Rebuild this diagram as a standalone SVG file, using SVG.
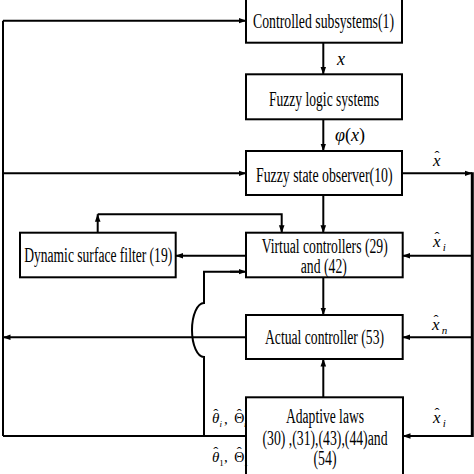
<svg xmlns="http://www.w3.org/2000/svg" width="474" height="474" viewBox="0 0 474 474">
<defs>
<marker id="ah" markerUnits="userSpaceOnUse" markerWidth="8" markerHeight="8" viewBox="0 0 8 8" refX="7.5" refY="4" orient="auto">
<path d="M0,1.2 L8,4 L0,6.8 Z" fill="#000"/>
</marker>
</defs>
<style>
.box{fill:#fff;stroke:#000;stroke-width:2}
.lbl{font-family:"Liberation Serif","Times New Roman",serif;font-size:20px;fill:#000;text-anchor:middle}
.m{font-family:"Liberation Serif","Times New Roman",serif;font-size:18px;font-style:italic;fill:#000}
.xh{font-family:"Liberation Serif","Times New Roman",serif;font-size:17px;font-style:italic;fill:#000}
.g{font-family:"Liberation Serif","Times New Roman",serif;font-size:15px;fill:#000}
.hat{font-size:15px;font-style:normal}
.it{font-style:italic}
.up{font-style:normal}
.sub{font-size:11px}
.s9{font-size:9px}
.ln{fill:none;stroke:#000;stroke-width:2}
.ar{fill:none;stroke:#000;stroke-width:2;marker-end:url(#ah)}
</style>
<rect width="474" height="474" fill="#fff"/>
<g id="connectors">
<path class="ln" d="M3,20.7 V436"/>
<path class="ar" d="M3,20.7 H246"/>
<path class="ar" d="M3,173.3 H246"/>
<path class="ar" d="M246,337.3 H3"/>
<path class="ln" d="M3,436 H246"/>
<path class="ln" d="M204,436 V357 A12,27 0 0 1 204,303 V271.7 H240"/>
<path class="ar" d="M230,271.7 H246"/>
<path class="ar" d="M323.3,42.7 V74.3"/>
<path class="ar" d="M323.3,119.3 V151"/>
<path class="ar" d="M323.3,195 V232.7"/>
<path class="ar" d="M323.3,277.3 V315"/>
<path class="ar" d="M323.3,397.3 V359"/>
<path class="ar" d="M246,255.7 H175.7"/>
<path class="ar" d="M97.7,232.7 V214.3"/>
<path class="ar" d="M97.7,214.3 H281.7 V232.7"/>
<path class="ar" d="M402,173.3 H472"/>
<path class="ln" d="M472.3,172.3 V437" style="stroke-width:3"/>
<path class="ar" d="M472.3,255.7 H402.7"/>
<path class="ar" d="M472.3,337.3 H402.7"/>
<path class="ar" d="M472.3,436 H403"/>
</g>
<g id="n1">
<rect class="box" x="246" y="-2" width="156" height="44.7"/>
<text class="lbl" x="323.5" y="28.3" textLength="141" lengthAdjust="spacingAndGlyphs">Controlled subsystems(1)</text>
</g>
<g id="n2">
<rect class="box" x="246" y="74.3" width="156" height="45"/>
<text class="lbl" x="324" y="105.5" textLength="110" lengthAdjust="spacingAndGlyphs">Fuzzy logic systems</text>
</g>
<g id="n3">
<rect class="box" x="246" y="151" width="156" height="44"/>
<text class="lbl" x="324.3" y="181.7" textLength="136.7" lengthAdjust="spacingAndGlyphs">Fuzzy state observer(10)</text>
</g>
<g id="n4">
<rect class="box" x="246" y="232.7" width="156.7" height="44.6"/>
<text class="lbl" x="324.7" y="252.5" textLength="126" lengthAdjust="spacingAndGlyphs">Virtual controllers (29)</text>
<text class="lbl" x="323.8" y="272.5" textLength="46" lengthAdjust="spacingAndGlyphs">and (42)</text>
</g>
<g id="n5">
<rect class="box" x="20" y="232.7" width="155.7" height="44.6"/>
<text class="lbl" x="98.2" y="262.3" textLength="148" lengthAdjust="spacingAndGlyphs">Dynamic surface filter (19)</text>
</g>
<g id="n6">
<rect class="box" x="246" y="315" width="156.7" height="44"/>
<text class="lbl" x="324.5" y="344" textLength="119" lengthAdjust="spacingAndGlyphs">Actual controller (53)</text>
</g>
<g id="n7">
<rect class="box" x="246" y="397.3" width="157" height="82"/>
<text class="lbl" x="325" y="423" textLength="78" lengthAdjust="spacingAndGlyphs">Adaptive laws</text>
<text class="lbl" x="325" y="444.7" textLength="125" lengthAdjust="spacingAndGlyphs">(30) ,(31),(43),(44)and</text>
<text class="lbl" x="325" y="464.7" textLength="23" lengthAdjust="spacingAndGlyphs">(54)</text>
</g>
<g id="labels">
<text class="m" x="337" y="65">x</text>
<text class="m" x="335" y="141">φ<tspan class="up">(</tspan>x<tspan class="up">)</tspan></text>
<text class="xh"><tspan x="433" y="166">x</tspan><tspan class="hat" x="434.5" y="161">ˆ</tspan></text>
<text class="xh"><tspan x="433" y="247">x</tspan><tspan class="hat" x="434.5" y="242">ˆ</tspan><tspan class="sub" x="442.8" y="251">i</tspan></text>
<text class="xh"><tspan x="432" y="330">x</tspan><tspan class="hat" x="433.5" y="325">ˆ</tspan><tspan class="sub" x="441.8" y="334">n</tspan></text>
<text class="xh"><tspan x="433" y="423">x</tspan><tspan class="hat" x="434.5" y="418">ˆ</tspan><tspan class="sub" x="442.8" y="427">i</tspan></text>
<text class="g"><tspan class="it" x="212" y="423.3">θ</tspan><tspan class="hat" x="213.2" y="419">ˆ</tspan><tspan class="it s9" x="219.5" y="427">i</tspan><tspan x="224" y="424">,</tspan><tspan style="font-size:14px" x="234.3" y="423.3">Θ</tspan><tspan class="hat" x="236.8" y="418.5">ˆ</tspan><tspan class="it s9" x="244" y="427">i</tspan></text>
<text class="g"><tspan class="it" x="212" y="461.7">θ</tspan><tspan class="hat" x="213.2" y="457.4">ˆ</tspan><tspan class="s9" x="219.2" y="465.5">1</tspan><tspan x="224" y="462.4">,</tspan><tspan style="font-size:14px" x="234.3" y="461.7">Θ</tspan><tspan class="hat" x="236.8" y="457">ˆ</tspan><tspan class="s9" x="243.8" y="465.5">1</tspan></text>
</g>
</svg>
